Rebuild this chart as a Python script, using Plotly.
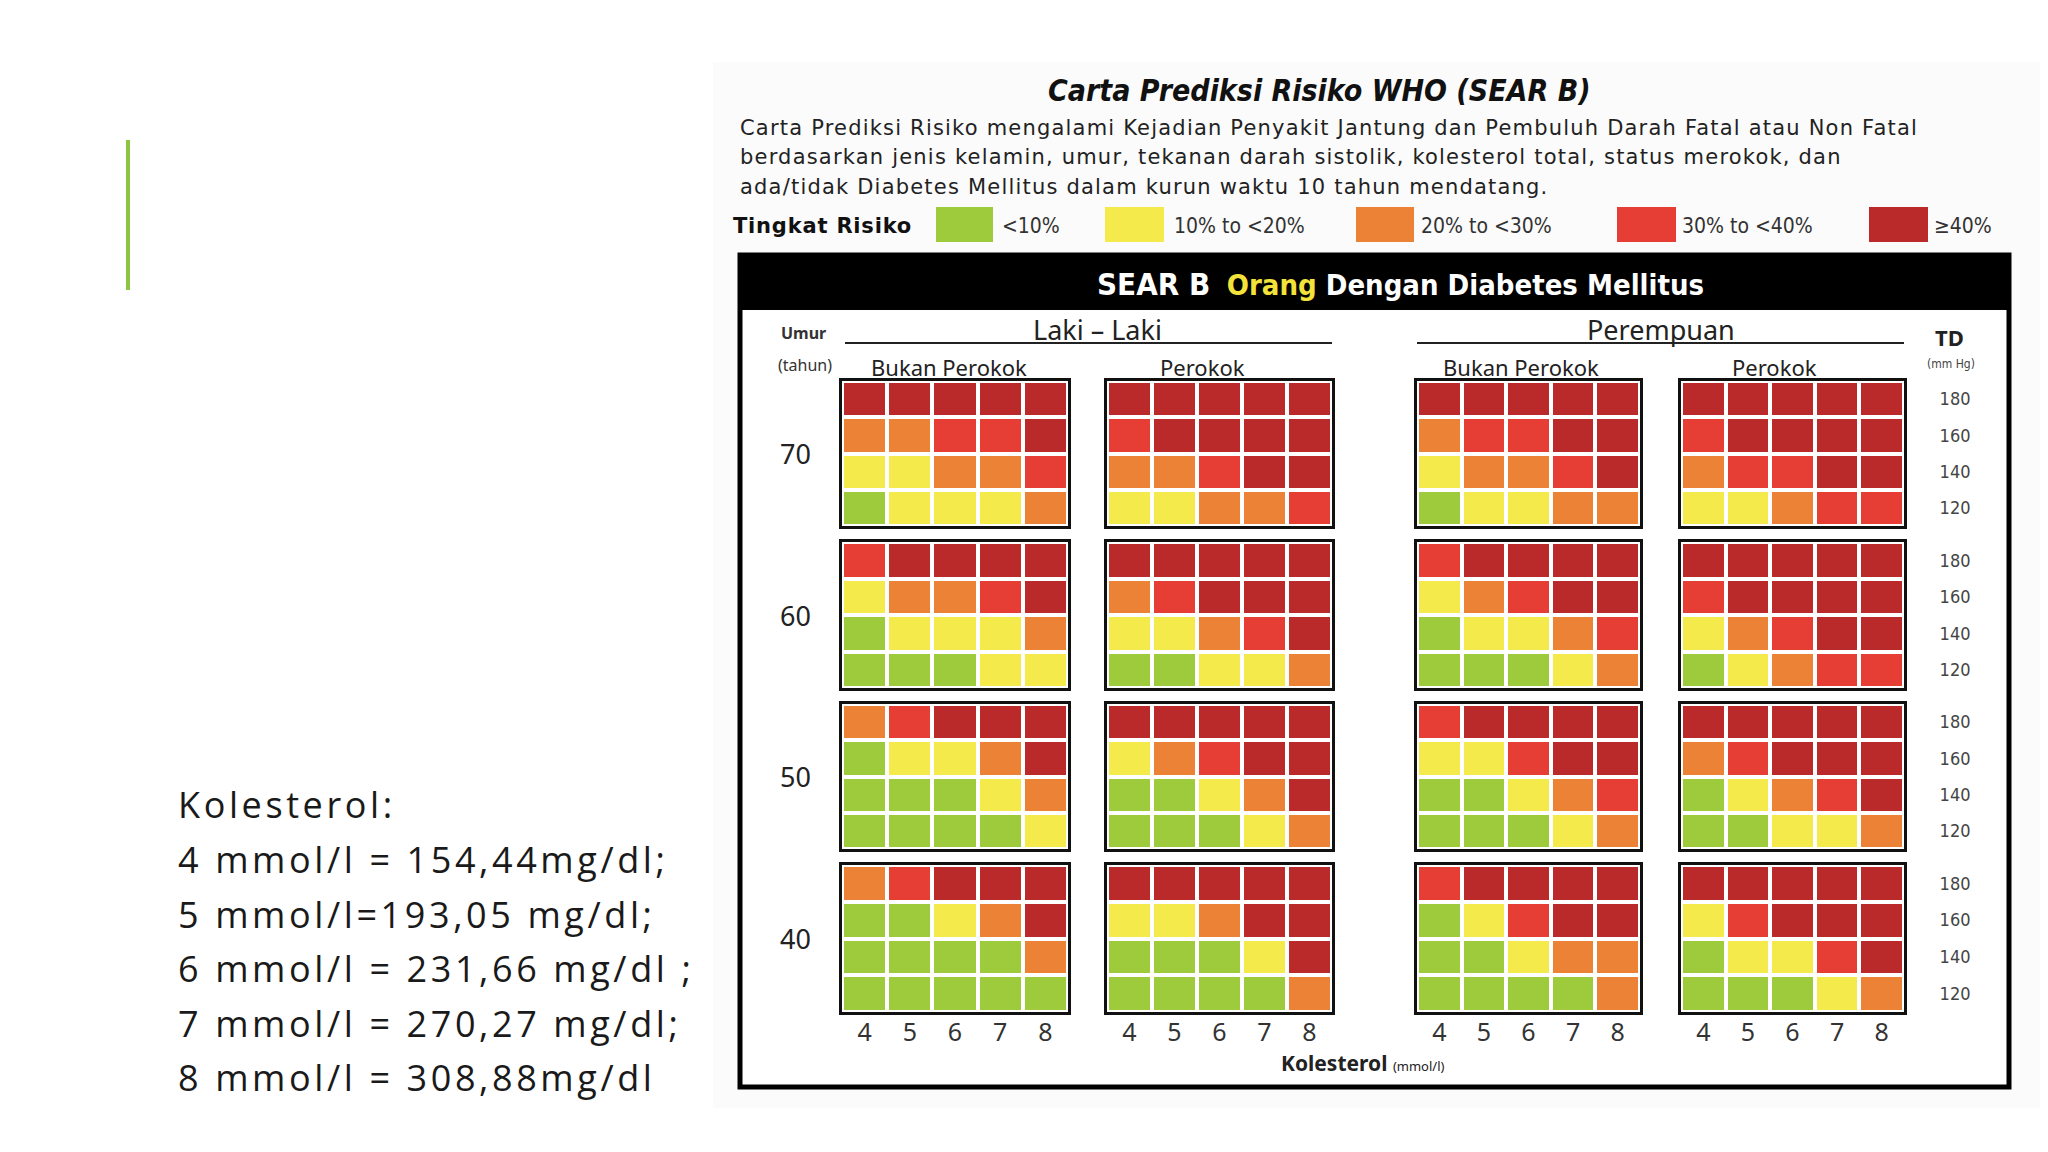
import plotly.graph_objects as go

W, H = 2048, 1152

# ---------------- data ----------------
chol_levels = [4, 5, 6, 7, 8]          # Kolesterol (mmol/l)
td_levels = [180, 160, 140, 120]       # TD (mm Hg), rows top -> bottom
age_groups = [70, 60, 50, 40]          # Umur (tahun)
risk_labels = ["<10%", "10% to <20%", "20% to <30%", "30% to <40%", "≥40%"]
risk_colors = ["#9ECB3B", "#F5EA4B", "#EC8236", "#E63D35", "#BA2A2A"]

group_titles = ["Bukan Perokok", "Perokok", "Bukan Perokok", "Perokok"]
sex_titles = ["Laki – Laki", "Perempuan"]

chol_conversion = ["4 mmol/l = 154,44mg/dl;", "5 mmol/l=193,05 mg/dl;",
                   "6 mmol/l = 231,66 mg/dl ;", "7 mmol/l = 270,27 mg/dl;",
                   "8 mmol/l = 308,88mg/dl"]

# risk level index (0..4); rows TD 180,160,140,120 ; cols chol 4..8
laki_bukan_70 = [[4, 4, 4, 4, 4], [2, 2, 3, 3, 4], [1, 1, 2, 2, 3], [0, 1, 1, 1, 2]]
laki_bukan_60 = [[3, 4, 4, 4, 4], [1, 2, 2, 3, 4], [0, 1, 1, 1, 2], [0, 0, 0, 1, 1]]
laki_bukan_50 = [[2, 3, 4, 4, 4], [0, 1, 1, 2, 4], [0, 0, 0, 1, 2], [0, 0, 0, 0, 1]]
laki_bukan_40 = [[2, 3, 4, 4, 4], [0, 0, 1, 2, 4], [0, 0, 0, 0, 2], [0, 0, 0, 0, 0]]

laki_perokok_70 = [[4, 4, 4, 4, 4], [3, 4, 4, 4, 4], [2, 2, 3, 4, 4], [1, 1, 2, 2, 3]]
laki_perokok_60 = [[4, 4, 4, 4, 4], [2, 3, 4, 4, 4], [1, 1, 2, 3, 4], [0, 0, 1, 1, 2]]
laki_perokok_50 = [[4, 4, 4, 4, 4], [1, 2, 3, 4, 4], [0, 0, 1, 2, 4], [0, 0, 0, 1, 2]]
laki_perokok_40 = [[4, 4, 4, 4, 4], [1, 1, 2, 4, 4], [0, 0, 0, 1, 4], [0, 0, 0, 0, 2]]

perempuan_bukan_70 = [[4, 4, 4, 4, 4], [2, 3, 3, 4, 4], [1, 2, 2, 3, 4], [0, 1, 1, 2, 2]]
perempuan_bukan_60 = [[3, 4, 4, 4, 4], [1, 2, 3, 4, 4], [0, 1, 1, 2, 3], [0, 0, 0, 1, 2]]
perempuan_bukan_50 = [[3, 4, 4, 4, 4], [1, 1, 3, 4, 4], [0, 0, 1, 2, 3], [0, 0, 0, 1, 2]]
perempuan_bukan_40 = [[3, 4, 4, 4, 4], [0, 1, 3, 4, 4], [0, 0, 1, 2, 2], [0, 0, 0, 0, 2]]

perempuan_perokok_70 = [[4, 4, 4, 4, 4], [3, 4, 4, 4, 4], [2, 3, 3, 4, 4], [1, 1, 2, 3, 3]]
perempuan_perokok_60 = [[4, 4, 4, 4, 4], [3, 4, 4, 4, 4], [1, 2, 3, 4, 4], [0, 1, 2, 3, 3]]
perempuan_perokok_50 = [[4, 4, 4, 4, 4], [2, 3, 4, 4, 4], [0, 1, 2, 3, 4], [0, 0, 1, 1, 2]]
perempuan_perokok_40 = [[4, 4, 4, 4, 4], [1, 3, 4, 4, 4], [0, 1, 1, 3, 4], [0, 0, 0, 1, 2]]

grid_data = [
    [laki_bukan_70, laki_perokok_70, perempuan_bukan_70, perempuan_perokok_70],
    [laki_bukan_60, laki_perokok_60, perempuan_bukan_60, perempuan_perokok_60],
    [laki_bukan_50, laki_perokok_50, perempuan_bukan_50, perempuan_perokok_50],
    [laki_bukan_40, laki_perokok_40, perempuan_bukan_40, perempuan_perokok_40],
]

# ---------------- layout geometry (pixels) ----------------
col_px = [(842, 1068), (1107, 1332), (1417, 1640), (1681, 1904)]
row_px = [(381, 526), (542, 688), (704, 849), (865, 1012)]


def fx(px):
    return px / W


def fy(py):
    return 1 - py / H


n = len(risk_colors)
colorscale = []
for i, c in enumerate(risk_colors):
    colorscale.append([i / n, c])
    colorscale.append([(i + 1) / n, c])

fig = go.Figure()
layout_axes = {}
FONT_UI = "Noto Sans, Open Sans, sans-serif"
COND = "DejaVu Sans Condensed, DejaVu Sans, sans-serif"
WIDE = "DejaVu Sans, sans-serif"

for ri, age in enumerate(age_groups):
    for ci in range(4):
        k = ri * 4 + ci + 1
        xname = "x" if k == 1 else f"x{k}"
        yname = "y" if k == 1 else f"y{k}"
        xkey = "xaxis" if k == 1 else f"xaxis{k}"
        ykey = "yaxis" if k == 1 else f"yaxis{k}"
        fig.add_trace(go.Heatmap(
            x=chol_levels, y=td_levels, z=grid_data[ri][ci],
            colorscale=colorscale, zmin=-0.5, zmax=n - 0.5, showscale=False,
            xgap=4, ygap=4, xaxis=xname, yaxis=yname,
            customdata=[[risk_labels[v] for v in row] for row in grid_data[ri][ci]],
            hovertemplate="Kolesterol %{x}<br>TD %{y}<br>%{customdata}<extra></extra>",
        ))
        x0, x1 = col_px[ci]
        y0, y1 = row_px[ri]
        layout_axes[xkey] = dict(
            domain=[fx(x0), fx(x1)], range=[3.5, 8.5], anchor=yname,
            showgrid=False, zeroline=False, showline=True, mirror=True,
            linecolor="#111", linewidth=3, ticks="",
            tickvals=chol_levels, showticklabels=(ri == 3),
            tickfont=dict(size=25, color="#333", family=FONT_UI),
            ticklabelstandoff=-4, fixedrange=True,
        )
        layout_axes[ykey] = dict(
            domain=[fy(y1), fy(y0)], range=[110, 190], anchor=xname,
            showgrid=False, zeroline=False, showline=True, mirror=True,
            linecolor="#111", linewidth=3, ticks="",
            tickvals=td_levels, showticklabels=(ci == 3), side="right",
            tickfont=dict(size=18, color="#444", family=COND),
            ticklabelstandoff=29, fixedrange=True,
        )

fig.update_layout(**layout_axes)

# ---------------- shapes ----------------
shapes = []
shapes.append(dict(type="rect", xref="paper", yref="paper", layer="below",
                   x0=fx(713), x1=fx(2040), y0=fy(1108), y1=fy(62),
                   fillcolor="#FBFBFB", line=dict(width=0)))
shapes.append(dict(type="rect", xref="paper", yref="paper", layer="below",
                   x0=fx(740), x1=fx(2009), y0=fy(1087), y1=fy(255),
                   fillcolor="white", line=dict(color="black", width=5)))
shapes.append(dict(type="rect", xref="paper", yref="paper", layer="below",
                   x0=fx(740), x1=fx(2009), y0=fy(310), y1=fy(255),
                   fillcolor="black", line=dict(width=0)))
for (ux0, ux1) in [(845, 1332), (1417, 1904)]:
    shapes.append(dict(type="line", xref="paper", yref="paper",
                       x0=fx(ux0), x1=fx(ux1), y0=fy(343), y1=fy(343),
                       line=dict(color="#222", width=2)))
shapes.append(dict(type="line", xref="paper", yref="paper",
                   x0=fx(128), x1=fx(128), y0=fy(140), y1=fy(290),
                   line=dict(color="#8CC63F", width=4)))
sw_px = [(936, 993), (1105, 1164), (1356, 1414), (1617, 1676), (1869, 1928)]
for (sx0, sx1), c in zip(sw_px, risk_colors):
    shapes.append(dict(type="rect", xref="paper", yref="paper",
                       x0=fx(sx0), x1=fx(sx1), y0=fy(242), y1=fy(207),
                       fillcolor=c, line=dict(width=0)))

# ---------------- annotations ----------------
ann = []


def text(px, py, s, size, color="#222", family=FONT_UI, xanchor="center", yanchor="middle"):
    ann.append(dict(x=fx(px), y=fy(py), xref="paper", yref="paper", text=s,
                    showarrow=False, xanchor=xanchor, yanchor=yanchor,
                    font=dict(size=size, color=color, family=family)))


text(1319, 90, "<b><i>Carta Prediksi Risiko WHO (SEAR B)</i></b>", 30, "#111", COND)
desc_lines = [
    "Carta Prediksi Risiko mengalami Kejadian Penyakit Jantung dan Pembuluh Darah Fatal atau Non Fatal",
    "berdasarkan jenis kelamin, umur, tekanan darah sistolik, kolesterol total, status merokok, dan",
    "ada/tidak Diabetes Mellitus dalam kurun waktu 10 tahun mendatang.",
]
for s, py in zip(desc_lines, [128, 157, 187]):
    text(738, py, f"<span style='letter-spacing:1.2px'>{s}</span>", 21, "#222", WIDE,
         xanchor="left")

text(731, 226, "<span style='letter-spacing:0.8px'><b>Tingkat Risiko</b></span>", 21, "#111",
     WIDE, xanchor="left")
for lab, px in zip(risk_labels, [1000, 1172, 1419, 1680, 1932]):
    text(px, 226, lab, 21, "#333", COND, xanchor="left")

text(1400, 284,
     "<b><span style='font-size:31px'>SEAR B</span></b>  "
     "<b><span style='color:#F2E23A'>Orang</span> Dengan Diabetes Mellitus</b>",
     29, "white", COND)

for s, px in zip(sex_titles, [1097, 1661]):
    text(px, 329, s, 27, "#222")
for s, px in zip(group_titles, [949, 1202, 1521, 1774]):
    text(px, 367, s, 22, "#222")

text(803, 333, "<b>Umur</b>", 16, "#333")
text(805, 365, "(tahun)", 16, "#333")
text(1949, 337, "<b>TD</b>", 22, "#222")
text(1951, 364, "(mm Hg)", 12, "#444", COND)

for age, (y0, y1) in zip(age_groups, row_px):
    text(795, (y0 + y1) / 2, str(age), 27, "#222")

text(1279, 1063, "<b>Kolesterol</b> <span style='font-size:13px'>(mmol/l)</span>",
     21, "#222", xanchor="left")

LEFT_FONT = "Open Sans, sans-serif"
left_lines = ["Kolesterol:"] + chol_conversion
for s, py in zip(left_lines, [804, 859, 914, 968, 1023, 1077]):
    text(176, py, f"<span style='letter-spacing:3.6px'>{s}</span>", 36, "#1a1a1a",
         LEFT_FONT, xanchor="left")

fig.update_layout(
    width=W, height=H, margin=dict(l=0, r=0, t=0, b=0),
    paper_bgcolor="white", plot_bgcolor="#111",
    shapes=shapes, annotations=ann, showlegend=False,
)

fig.write_html("out.html", config={"displayModeBar": False},
               post_script="document.body.style.margin='0';document.body.style.overflow='hidden';")
